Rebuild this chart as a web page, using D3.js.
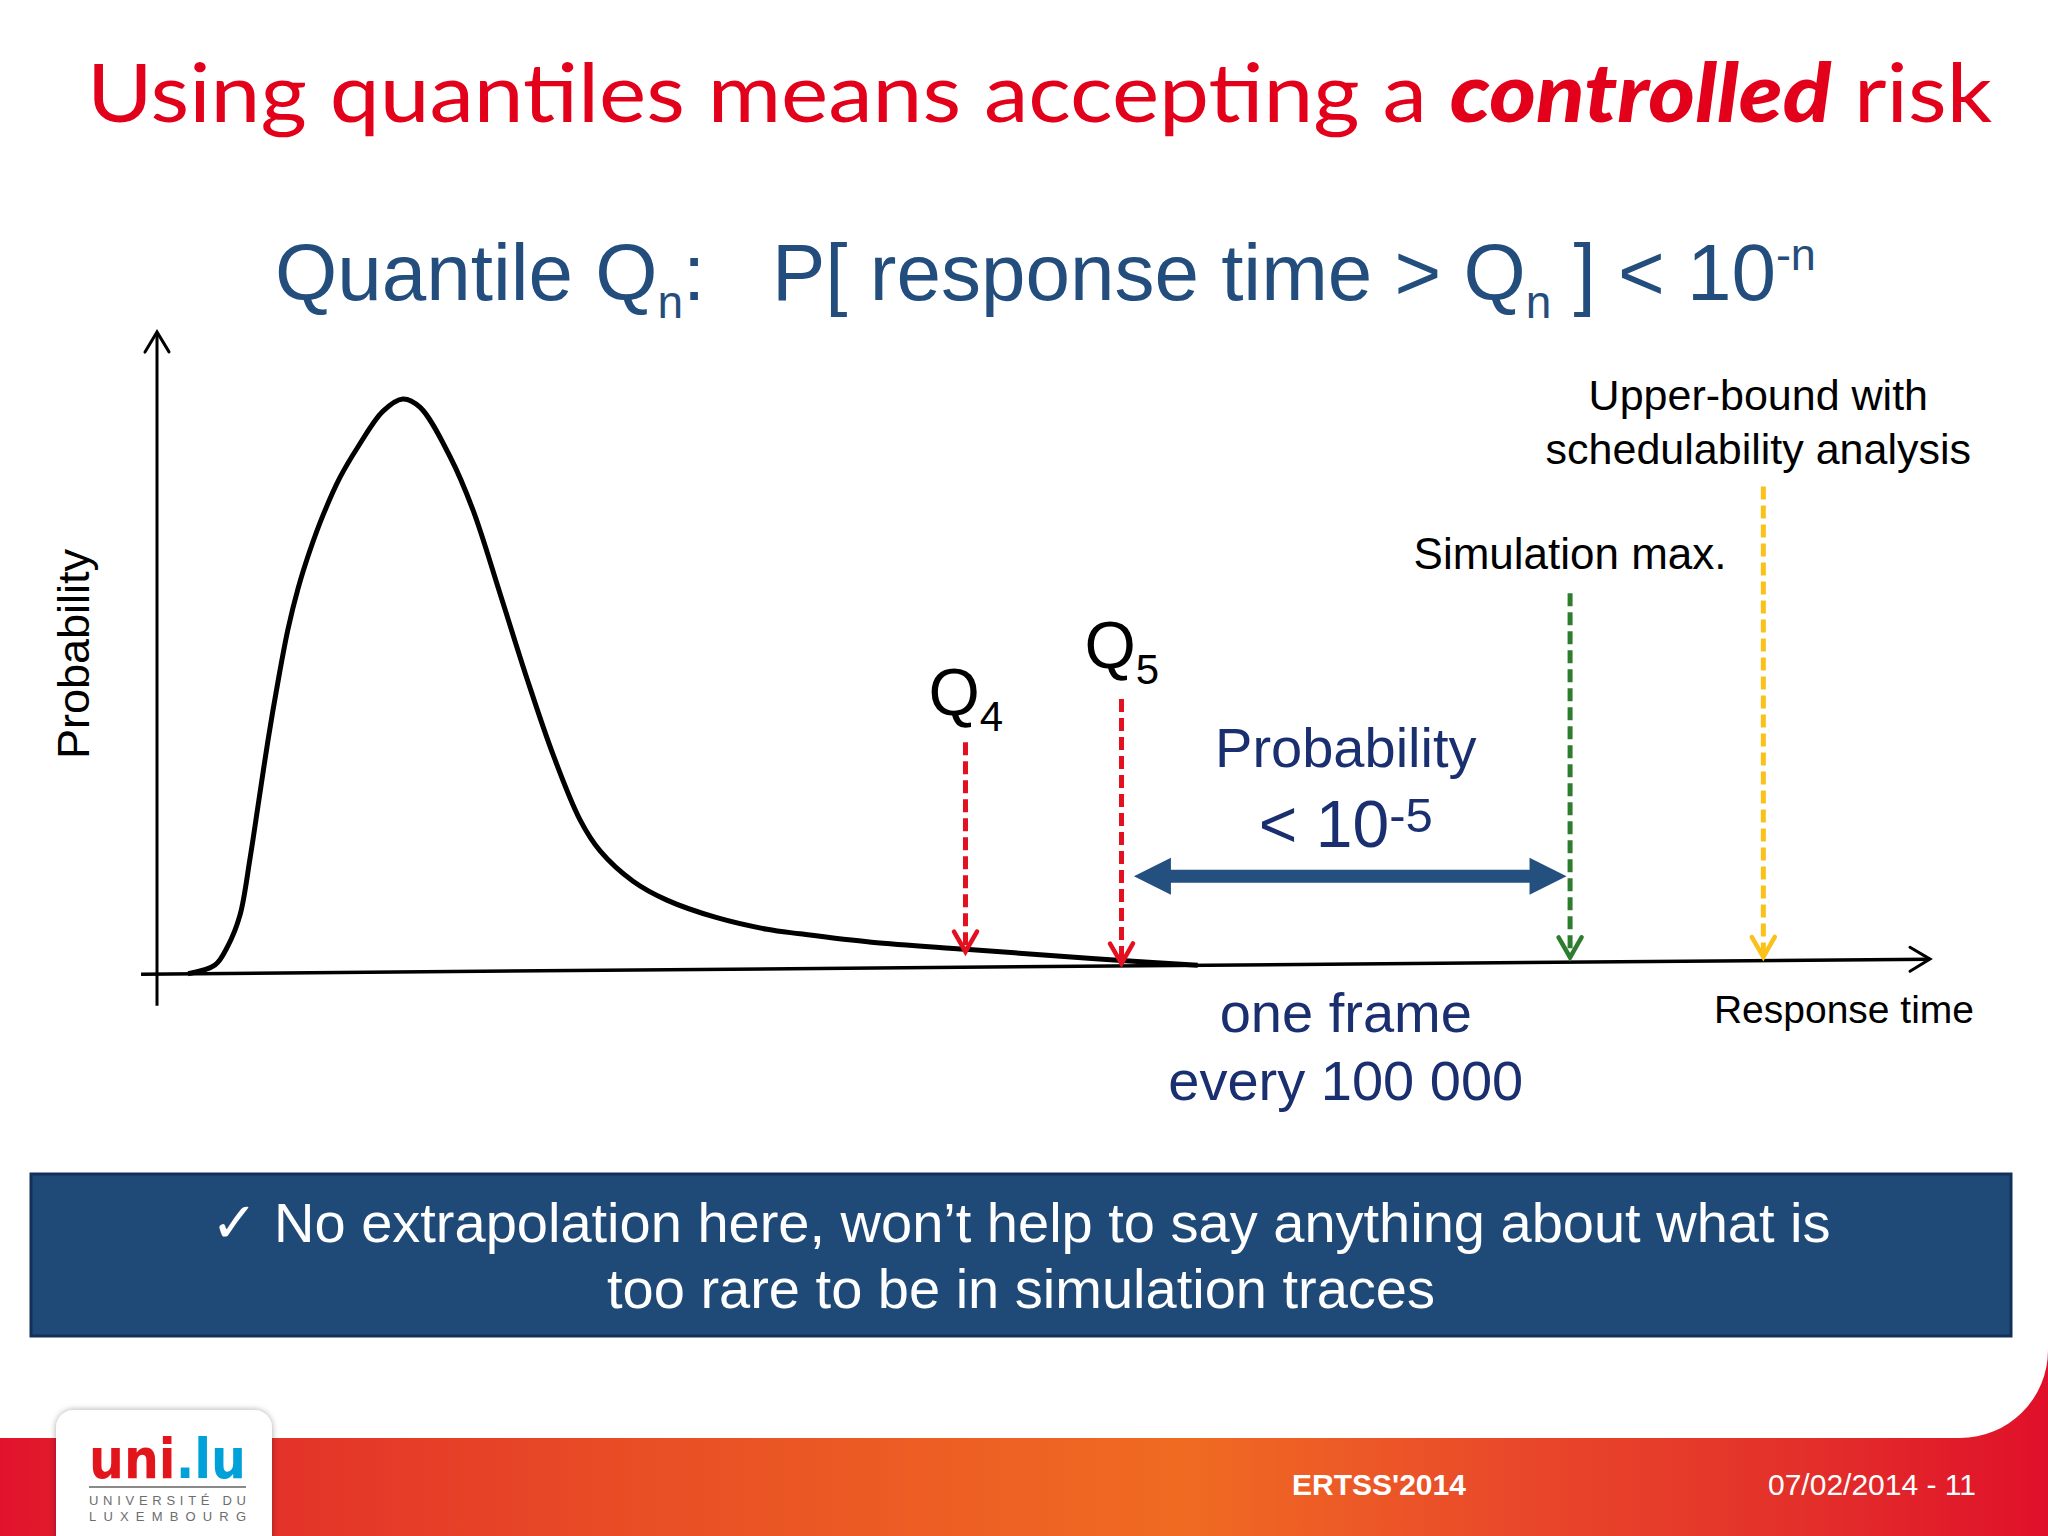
<!DOCTYPE html>
<html>
<head>
<meta charset="utf-8">
<script src="https://cdn.jsdelivr.net/npm/d3@7"></script>
<style>
  html, body { margin: 0; padding: 0; background: #fff; }
  svg { display: block; }
  text { font-family: "Liberation Sans", Arial, sans-serif; }
</style>
</head>
<body>
<svg width="2048" height="1536"></svg>
<script>
// response time distribution (arbitrary units)
const responseTime = [1.75, 3.27, 4.0, 4.68, 5.25, 5.75, 6.26, 6.82, 7.39, 7.95, 8.63, 9.36, 10.32, 11.34,
    12.75, 13.87, 14.83, 16.53, 17.82, 19.35, 20.87, 22.34, 23.86, 24.99, 26.85, 28.76, 31.58, 34.41,
    36.27, 40.3, 45.6, 50.2, 54.4, 58.7];
const probability = [0, 1.4, 4.6, 9.7, 19.2, 28.9, 38.8, 48.5, 57.3, 64.0, 70.4, 76.2, 82.5, 87.6,
    93.5, 95.5, 94.1, 85.8, 76.9, 62.9, 48.7, 36.0, 25.1, 19.9, 14.8, 11.6, 8.6, 6.6,
    5.8, 4.3, 3.0, 1.9, 0.9, 0];

// vertical dashed markers
const markerIds = ['q4', 'q5', 'simMax', 'upperBound'];
const markerTimes = [45.6, 54.4, 79.7, 90.6];
const markerTops = [37.5, 44.5, 61.5, 79];
const markerTips = [2.6, 0.4, 0.8, 0.6];
const markerColors = ['#e3101f', '#e3101f', '#2e7d2e', '#fbc11a'];

// "probability < 10^-5" interval between Q5 and simulation max
const rangeStart = 55.1;
const rangeEnd = 79.5;
const rangeLevel = 16.3;

const svg = d3.select('svg');
const width = +svg.attr('width');
const height = +svg.attr('height');

const origin = { x: 157, y: 974 };
const tilt = -0.48; // the x axis rises slightly to the right on the slide

const xScale = d3.scaleLinear().domain([0, 100]).range([0, 1773]);
const yScale = d3.scaleLinear().domain([0, 100]).range([0, -600]);

const defs = svg.append('defs');

const addChevron = (id, color, w, len, half) => {
    defs.append('marker')
        .attr('id', id)
        .attr('markerUnits', 'userSpaceOnUse')
        .attr('viewBox', '-30 -20 36 40')
        .attr('markerWidth', 36)
        .attr('markerHeight', 40)
        .attr('refX', 0)
        .attr('refY', 0)
        .attr('orient', 'auto')
        .append('path')
        .attr('d', `M${-len},${-half}L0,0L${-len},${half}`)
        .attr('fill', 'none')
        .attr('stroke', color)
        .attr('stroke-width', w)
        .attr('stroke-linecap', 'round')
        .attr('stroke-linejoin', 'miter');
};
addChevron('arrow-axis', '#000', 3, 20, 12);
markerIds.forEach((id, i) => addChevron('arrow-' + id, markerColors[i], 4.5, 20, 11.5));

const shadow = defs.append('filter').attr('id', 'shadow')
    .attr('x', '-20%').attr('y', '-20%').attr('width', '140%').attr('height', '140%');
shadow.append('feDropShadow').attr('dx', 0).attr('dy', 0)
    .attr('stdDeviation', 3).attr('flood-color', '#000').attr('flood-opacity', 0.35);

const footGrad = defs.append('linearGradient').attr('id', 'footGrad')
    .attr('x1', 0).attr('x2', 1).attr('y1', 0).attr('y2', 0);
[[0, '#e1132c'], [0.12, '#e3302a'], [0.32, '#e94f25'], [0.58, '#f06b22'],
 [0.74, '#e9482a'], [0.88, '#e3302a'], [1, '#e0102a']].forEach(([o, c]) =>
    footGrad.append('stop').attr('offset', o).attr('stop-color', c));

//Title and formula
const title = svg.append('text')
    .attr('x', 87).attr('y', 122)
    .attr('fill', '#e2001a')
    .style('font-family', 'Lato, "DejaVu Sans", sans-serif')
    .attr('font-size', 82)
    .attr('textLength', 1905)
    .attr('lengthAdjust', 'spacingAndGlyphs');
title.append('tspan').text('Using quantiles means accepting a ');
title.append('tspan').attr('font-weight', 900).attr('font-style', 'italic').text('controlled');
title.append('tspan').text(' risk');

const subColor = '#234d7c';
const sub1 = svg.append('text').attr('x', 275).attr('y', 300)
    .attr('fill', subColor).attr('font-size', 80);
sub1.append('tspan').text('Quantile Q');
sub1.append('tspan').attr('font-size', 46).attr('dy', 18).text('n');
sub1.append('tspan').attr('dy', -18).text(':');

const sub2 = svg.append('text').attr('x', 772).attr('y', 300)
    .attr('fill', subColor).attr('font-size', 80)
    .style('white-space', 'pre');
sub2.append('tspan').text('P[ response time > Q');
sub2.append('tspan').attr('font-size', 46).attr('dy', 18).text('n');
sub2.append('tspan').attr('dy', -18).text(' ] < 10');
sub2.append('tspan').attr('font-size', 45).attr('dy', -30).text('-n');

//Plot
const plot = svg.append('g').attr('transform', `translate(${origin.x},${origin.y})`);
const tilted = plot.append('g').attr('transform', `skewY(${tilt})`);

tilted.append('line')
    .attr('x1', 0).attr('y1', yScale(-5.3))
    .attr('x2', 0).attr('y2', yScale(107))
    .attr('stroke', '#000').attr('stroke-width', 3)
    .attr('marker-end', 'url(#arrow-axis)');

tilted.append('line')
    .attr('x1', xScale(-0.9)).attr('y1', yScale(0))
    .attr('x2', xScale(100)).attr('y2', yScale(0))
    .attr('stroke', '#000').attr('stroke-width', 3.5)
    .attr('marker-end', 'url(#arrow-axis)');

const curveData = responseTime.map((t, i) => ({ t, p: probability[i] }));
const line = d3.line()
    .x(d => xScale(d.t))
    .y(d => yScale(d.p))
    .curve(d3.curveCatmullRom.alpha(0.5));

tilted.append('path')
    .attr('d', line(curveData))
    .attr('fill', 'none')
    .attr('stroke', '#000')
    .attr('stroke-width', 5)
    .attr('stroke-linejoin', 'round');

tilted.selectAll('.marker-line')
    .data(markerIds)
    .join('line')
    .attr('class', 'marker-line')
    .attr('x1', (d, i) => xScale(markerTimes[i]))
    .attr('x2', (d, i) => xScale(markerTimes[i]))
    .attr('y1', (d, i) => yScale(markerTops[i]))
    .attr('y2', (d, i) => yScale(markerTips[i]))
    .attr('stroke', (d, i) => markerColors[i])
    .attr('stroke-width', 5)
    .attr('stroke-dasharray', '13,6')
    .attr('marker-end', d => `url(#arrow-${d})`);

// double arrow
const ax0 = xScale(rangeStart);
const ax1 = xScale(rangeEnd);
const ay = yScale(rangeLevel);
const headLen = 37, headHalf = 18.5, shaft = 6.5;
plot.append('path')
    .attr('d', `M${ax0},${ay}L${ax0 + headLen},${ay - headHalf}L${ax0 + headLen},${ay - shaft}` +
        `L${ax1 - headLen},${ay - shaft}L${ax1 - headLen},${ay - headHalf}L${ax1},${ay}` +
        `L${ax1 - headLen},${ay + headHalf}L${ax1 - headLen},${ay + shaft}` +
        `L${ax0 + headLen},${ay + shaft}L${ax0 + headLen},${ay + headHalf}Z`)
    .attr('fill', '#24507f');

//Annotations
const px = t => origin.x + xScale(t);

const addQ = (t, baseline, n) => {
    const q = svg.append('text').attr('x', px(t) - 37).attr('y', baseline)
        .attr('font-size', 66).attr('fill', '#000');
    q.append('tspan').text('Q');
    q.append('tspan').attr('font-size', 42).attr('dy', 16).text(n);
};
addQ(markerTimes[0], 715, '4');
addQ(markerTimes[1], 668, '5');

svg.append('text')
    .attr('x', px(markerTimes[2])).attr('y', 569)
    .attr('text-anchor', 'middle').attr('font-size', 44)
    .text('Simulation max.');

svg.append('g').selectAll('text')
    .data(['Upper-bound with', 'schedulability analysis'])
    .join('text')
    .attr('x', px(markerTimes[3]) - 5)
    .attr('y', (d, i) => 410 + i * 54)
    .attr('text-anchor', 'middle').attr('font-size', 43)
    .text(d => d);

const navy = '#1a2f70';
const midX = px((markerTimes[1] + markerTimes[2]) / 2);
svg.append('text')
    .attr('x', midX).attr('y', 767)
    .attr('text-anchor', 'middle').attr('font-size', 56).attr('fill', navy)
    .text('Probability');

const lt = svg.append('text')
    .attr('x', midX).attr('y', 847)
    .attr('text-anchor', 'middle').attr('font-size', 66).attr('fill', navy);
lt.append('tspan').text('< 10');
lt.append('tspan').attr('font-size', 49).attr('dy', -15).text('-5');

svg.append('g').selectAll('text')
    .data(['one frame', 'every 100 000'])
    .join('text')
    .attr('x', midX)
    .attr('y', (d, i) => 1032 + i * 68)
    .attr('text-anchor', 'middle').attr('font-size', 56).attr('fill', navy)
    .text(d => d);

svg.append('text')
    .attr('x', 1844).attr('y', 1023)
    .attr('text-anchor', 'middle').attr('font-size', 39)
    .text('Response time');

svg.append('text')
    .attr('transform', 'translate(89,654) rotate(-90)')
    .attr('text-anchor', 'middle').attr('font-size', 45)
    .text('Probability');

//Conclusion box
svg.append('rect')
    .attr('x', 31).attr('y', 1174).attr('width', 1980).attr('height', 162)
    .attr('fill', '#1f4a78').attr('stroke', '#12305a').attr('stroke-width', 3);

svg.append('g').selectAll('text')
    .data(['\u2713 No extrapolation here, won\u2019t help to say anything about what is',
           'too rare to be in simulation traces'])
    .join('text')
    .attr('x', 1021)
    .attr('y', (d, i) => 1242 + i * 66)
    .attr('text-anchor', 'middle').attr('font-size', 56).attr('fill', '#fff')
    .text(d => d);

//Footer
svg.append('path')
    .attr('d', `M0,1438H1960A88,88 0 0 0 2048,1350V${height}H0Z`)
    .attr('fill', 'url(#footGrad)');

svg.append('text')
    .attr('x', 1292).attr('y', 1495)
    .attr('font-size', 30).attr('font-weight', 'bold').attr('fill', '#fff')
    .text("ERTSS'2014");

svg.append('text')
    .attr('x', 1768).attr('y', 1495)
    .attr('font-size', 30).attr('fill', '#fff')
    .text('07/02/2014 - 11');

// university logo
svg.append('rect')
    .attr('x', 56).attr('y', 1410).attr('width', 216).attr('height', 160).attr('rx', 18)
    .attr('fill', '#fff').attr('filter', 'url(#shadow)');

const logo = svg.append('text')
    .attr('x', 89).attr('y', 1478)
    .attr('font-size', 56).attr('font-weight', 'bold')
    .style('font-family', '"DejaVu Sans Condensed", "DejaVu Sans", sans-serif')
    .attr('textLength', 157).attr('lengthAdjust', 'spacingAndGlyphs');
logo.append('tspan').attr('fill', '#e3151c').text('uni');
logo.append('tspan').attr('fill', '#00a0d8').text('.lu');

svg.append('line')
    .attr('x1', 89).attr('x2', 246).attr('y1', 1487).attr('y2', 1487)
    .attr('stroke', '#8a8a8a').attr('stroke-width', 2);

svg.append('g').selectAll('text')
    .data(['UNIVERSIT\u00c9 DU', 'LUXEMBOURG'])
    .join('text')
    .attr('x', 89)
    .attr('y', (d, i) => 1505 + i * 16)
    .attr('font-size', 13).attr('fill', '#6d6d6d')
    .attr('textLength', 157).attr('lengthAdjust', 'spacing')
    .text(d => d);
</script>
</body>
</html>
